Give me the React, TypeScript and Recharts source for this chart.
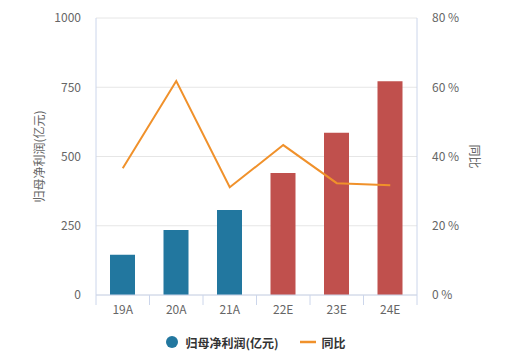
import { Bar, CartesianGrid, Cell, ComposedChart, Legend, Line, XAxis, YAxis } from "recharts"

const years = ["19A", "20A", "21A", "22E", "23E", "24E"]
const profit = [145, 235, 307, 440, 586, 772]
const yoy = [36.6, 61.8, 31.1, 43.3, 32.3, 31.7]
const profitTicks = [0, 250, 500, 750, 1000]
const yoyTicks = [0, 20, 40, 60, 80]

const BLUE = "#22779f"
const RED = "#c0504d"
const ORANGE = "#f0912b"
const AXIS = "#ccd6eb"
const FONT = '"Noto Sans CJK SC", "Noto Sans", sans-serif'

const data = years.map((year, i) => ({ year, profit: profit[i], yoy: yoy[i] }))

function YearTick(props: any) {
  const { x, y, payload, index } = props
  const half = payload.offset ?? 0
  return (
    <g>
      <line x1={x - half} x2={x - half} y1={y} y2={y + 10} stroke={AXIS} />
      {index === years.length - 1 && <line x1={x + half} x2={x + half} y1={y} y2={y + 10} stroke={AXIS} />}
      <text x={x} y={y + 19} textAnchor="middle" fill="#666" fontSize={12}>
        {payload.value}
      </text>
    </g>
  )
}

function LegendRow() {
  return (
    <div style={{ display: "flex", justifyContent: "center", alignItems: "center", height: 20, fontSize: 12, fontWeight: "bold", color: "#333" }}>
      <svg width={12} height={12} style={{ marginRight: 7 }}>
        <circle cx={6} cy={6} r={6} fill={BLUE} />
      </svg>
      <span>归母净利润(亿元)</span>
      <svg width={16} height={12} style={{ marginLeft: 21, marginRight: 6 }}>
        <line x1={0} x2={16} y1={6} y2={6} stroke={ORANGE} strokeWidth={2.5} />
      </svg>
      <span>同比</span>
    </div>
  )
}

export default function App() {
  return (
    <div style={{ position: "absolute", left: 0, top: 0, width: 512, height: 354, background: "#fff", fontFamily: FONT }}>
      <ComposedChart width={512} height={354} data={data} margin={{ top: 18, right: 0, left: 0, bottom: 2 }}>
        <CartesianGrid vertical={false} stroke="#e6e6e6" yAxisId="left" />
        <XAxis dataKey="year" height={37} tick={<YearTick />} tickLine={false} tickSize={0} tickMargin={0} axisLine={{ stroke: AXIS }} interval={0} />
        <YAxis
          yAxisId="left"
          width={96}
          domain={[0, 1000]}
          ticks={profitTicks}
          tickLine={false}
          axisLine={{ stroke: AXIS }}
          tick={{ fill: "#666", fontSize: 12 }}
          tickMargin={9}
          label={{
            content: (p: any) => {
              const vb = p.viewBox
              const cx = vb.x + 38
              const cy = vb.y + vb.height / 2
              return (
                <text x={cx} y={cy} transform={`rotate(-90 ${cx} ${cy})`} textAnchor="middle" dominantBaseline="central" fill="#666" fontSize={12}>
                  归母净利润(亿元)
                </text>
              )
            },
          }}
        />
        <YAxis
          yAxisId="right"
          orientation="right"
          width={95}
          domain={[0, 80]}
          ticks={yoyTicks}
          tickLine={false}
          axisLine={{ stroke: AXIS }}
          tick={{ fill: "#666", fontSize: 12 }}
          tickMargin={9}
          tickFormatter={(v: number) => `${v} %`}
          label={{
            content: (p: any) => {
              const vb = p.viewBox
              const cx = vb.x + 58
              const cy = vb.y + vb.height / 2
              return (
                <text x={cx} y={cy} transform={`rotate(90 ${cx} ${cy})`} textAnchor="middle" dominantBaseline="central" fill="#666" fontSize={12}>
                  同比
                </text>
              )
            },
          }}
        />
        <Bar yAxisId="left" dataKey="profit" barSize={25} isAnimationActive={false}>
          {data.map((d) => (
            <Cell key={d.year} fill={d.year.endsWith("E") ? RED : BLUE} />
          ))}
        </Bar>
        <Line yAxisId="right" dataKey="yoy" stroke={ORANGE} strokeWidth={2} dot={false} activeDot={false} isAnimationActive={false} />
        <Legend verticalAlign="bottom" content={<LegendRow />} />
      </ComposedChart>
    </div>
  )
}
